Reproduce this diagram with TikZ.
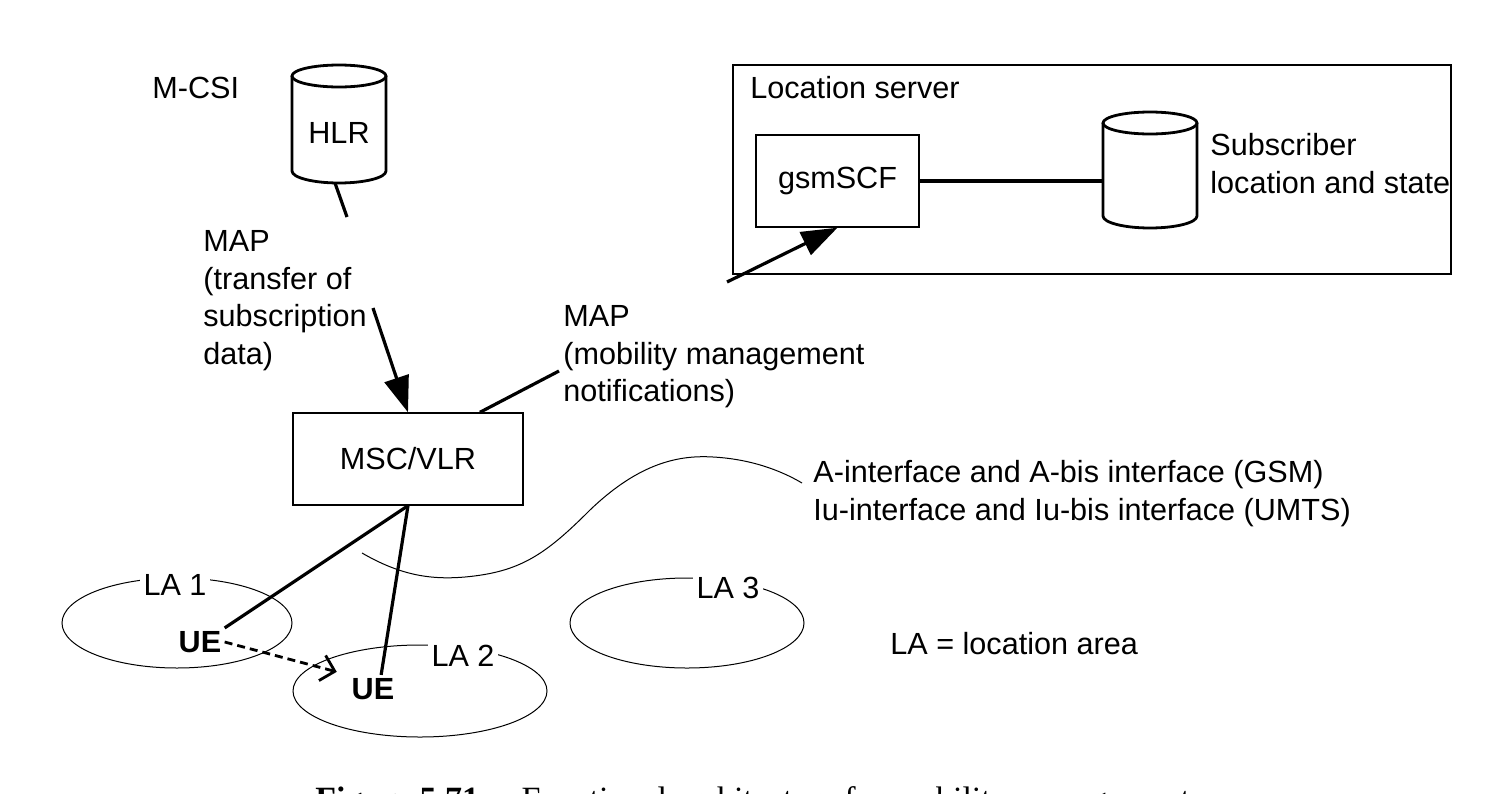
\documentclass[tikz,border=0pt]{standalone}
\usepackage{fontspec}
\setmainfont{Liberation Sans}
\newfontfamily\capfont{Liberation Serif}
\usetikzlibrary{arrows.meta,shapes.geometric}
\tikzset{
  lbl/.style={inner sep=0pt,font=\fontsize{15.3}{18.8}\selectfont},
  txt/.style={lbl,align=left,anchor=north west},
  unit/.style={draw,line width=0.7pt,font=\fontsize{15.3}{18.8}\selectfont,inner sep=0pt},
  drum/.style={line width=1.4pt},
  link/.style={line width=1.6pt},
  sig/.style={line width=1.6pt,-{Triangle[length=18pt,width=12.5pt]}},
  area/.style={draw,ellipse,line width=0.5pt,inner sep=0pt},
  arealbl/.style={lbl,fill=white,inner sep=2pt},
  ue/.style={lbl,font=\fontsize{15.3}{18.8}\selectfont\bfseries,inner sep=1.5pt},
  move/.style={line width=1.4pt,dash pattern=on 4pt off 2.5pt,-{Straight Barb[length=6.5pt,width=13pt]}},
}
\begin{document}
\begin{tikzpicture}[x=0.5pt,y=0.5pt]
  \useasboundingbox (0,0) rectangle (1510,-793);
  % HLR drum
  \draw[drum] (292,-76) -- (292,-171) arc[start angle=180,end angle=360,x radius=23.5pt,y radius=6pt] -- (386,-76);
  \draw[drum] (339,-76) ellipse [x radius=23.5pt,y radius=5.5pt];
  \node[lbl] (hlr) at (339,-133) {HLR};
  \node[lbl,anchor=base west] (mcsi) at (152,-98) {M-CSI};
  \coordinate (hlrout) at (335,-183);
  \coordinate (hlrend) at (347,-217);
  \draw[link] (hlrout) -- (hlrend);
  \node[txt] (mapsub) at (203,-230) {MAP\\(transfer of\\subscription\\data)};
  \coordinate (mapin) at (373,-308);
  % MSC/VLR
  \node[unit,minimum width=115pt,minimum height=46pt] (msc) at (408,-459) {MSC/VLR};
  \draw[sig] (mapin) -- (msc.north);
  \coordinate (mapout) at (559,-371);
  \draw[link] (msc.33) -- (mapout);
  \node[txt] (mapmob) at (563,-305) {MAP\\(mobility management\\notifications)};
  % location server
  \node[unit,minimum width=359pt,minimum height=104.5pt] (ls) at (1092,-169.5) {};
  \node[lbl,anchor=base west] (lstitle) at (750,-98) {Location server};
  \node[unit,minimum width=81.5pt,minimum height=46pt] (gsm) at (837.5,-181) {gsmSCF};
  \draw[drum] (1103,-123) -- (1103,-216) arc[start angle=180,end angle=360,x radius=23.5pt,y radius=6pt] -- (1197,-123);
  \draw[drum] (1150,-123) ellipse [x radius=23.5pt,y radius=5.5pt];
  \coordinate (subdb) at (1103,-181);
  \draw[link] (gsm.east) -- (subdb);
  \node[txt] (subtxt) at (1210,-133) {Subscriber\\location and state};
  \coordinate (lsin) at (727,-282);
  \draw[sig] (lsin) -- (gsm.south);
  % location areas
  \node[area,minimum width=115pt,minimum height=45pt] (la1) at (177,-623) {};
  \node[area,minimum width=127pt,minimum height=46pt] (la2) at (420,-691) {};
  \node[area,minimum width=117pt,minimum height=45pt] (la3) at (687,-623) {};
  \node[arealbl] (la1lbl) at (175,-585) {LA 1};
  \node[arealbl] (la2lbl) at (463,-656) {LA 2};
  \node[arealbl] (la3lbl) at (728,-588) {LA 3};
  \node[ue] (ue1) at (200,-642) {UE};
  \node[ue] (ue2) at (373,-689) {UE};
  \draw[link] (msc.south) -- (ue1.north east);
  \draw[link] (msc.south) -- (ue2.60);
  \draw[move,shorten >=6pt] (ue1.east) -- (ue2.north west);
  % radio interfaces
  \draw[line width=0.5pt] (362,-553) .. controls (400,-575) and (430,-580) .. (465,-577)
    .. controls (520,-572) and (545,-555) .. (590,-510)
    .. controls (640,-462) and (680,-455) .. (713,-457)
    .. controls (750,-459) and (780,-470) .. (802,-483);
  \node[txt] (ifc) at (813,-460) {A-interface and A-bis interface (GSM)\\Iu-interface and Iu-bis interface (UMTS)};
  \node[lbl,anchor=base west] (legend) at (890,-654) {LA = location area};
  \node[anchor=base west,inner sep=0pt,font=\capfont\fontsize{17}{20}\selectfont] (cap) at (315,-810)
    {\textbf{Figure 5.71}\quad\ Functional architecture for mobility management};
\end{tikzpicture}
\end{document}
